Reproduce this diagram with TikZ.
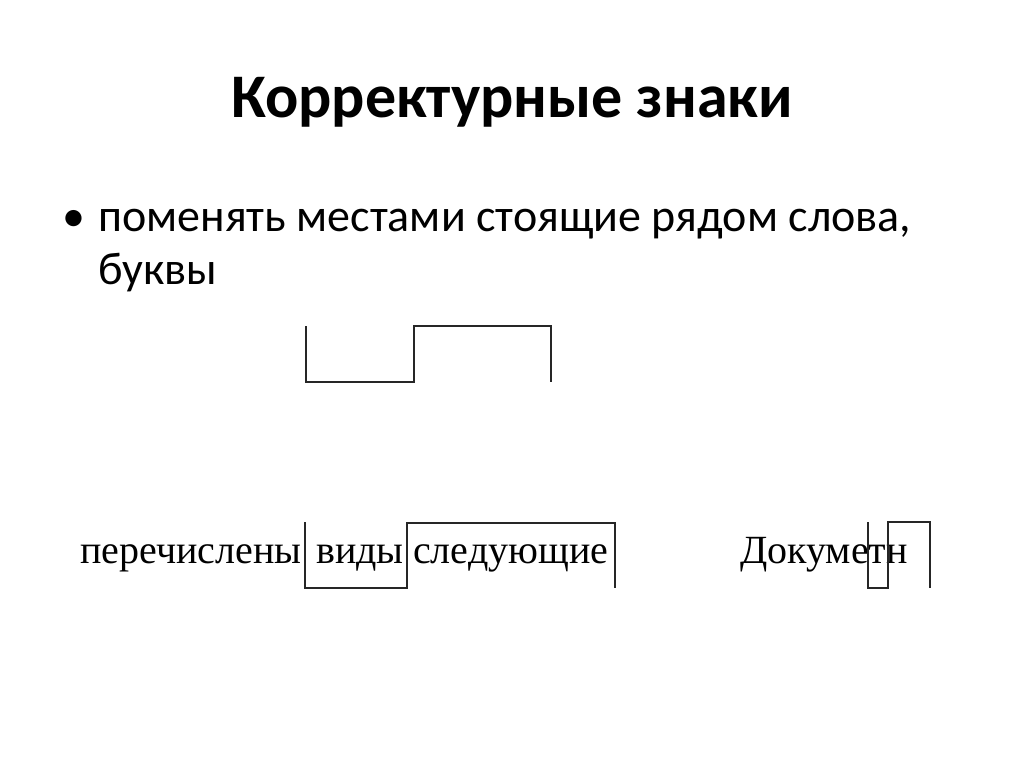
\documentclass[tikz,border=0pt]{standalone}
\usepackage{fontspec}
\setmainfont{Carlito}
\newfontfamily\serifru{Liberation Serif}
\begin{document}
\begin{tikzpicture}[x=1pt,y=-1pt,
  sign/.style={line width=1.6pt,black!85},
  ser/.style={font=\serifru\fontsize{40}{40}\selectfont,inner sep=0pt,anchor=base west}]
\useasboundingbox[fill=white] (0,0) rectangle (1024,767);
\node[font=\bfseries\fontsize{62}{66}\selectfont,anchor=base,inner sep=0pt] (title) at (512,118) {Корректурные знаки};
\node[font=\fontsize{46}{50}\selectfont,anchor=base west,inner sep=0pt] (bul) at (62,232) {•};
\node[font=\fontsize{46}{50}\selectfont,anchor=base west,inner sep=0pt] (l1) at (98,232) {поменять местами стоящие рядом слова,};
\node[font=\fontsize{46}{50}\selectfont,anchor=base west,inner sep=0pt] (l2) at (98,284) {буквы};
\draw[sign] (306,326) -- (306,382) -- (414,382) -- (414,326) -- (551,326) -- (551,382);
\node[ser] (w1) at (80,563) {перечислены};
\node[ser] (w2) at (316,563) {виды};
\node[ser] (w3) at (413,563) {следующие};
\node[ser] (w4) at (740,563) {Докуметн};
\draw[sign] (305,522) -- (305,588) -- (407,588) -- (407,523) -- (615,523) -- (615,588);
\draw[sign] (868,522) -- (868,588) -- (888,588) -- (888,522) -- (930,522) -- (930,588);
\end{tikzpicture}
\end{document}
